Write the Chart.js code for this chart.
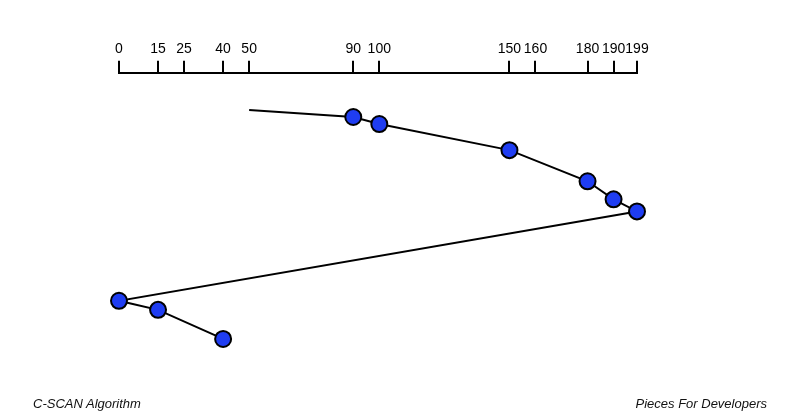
<!DOCTYPE html>
<html>
<head>
<meta charset="utf-8">
<script src="https://cdn.jsdelivr.net/npm/chart.js@4/dist/chart.umd.min.js"></script>
<style>
  body { margin: 0; background: #fff; }
  #wrap { position: relative; width: 800px; height: 420px; }
  .foot { position: absolute; top: 396px; font: italic 13px "Liberation Sans", Arial, sans-serif; color: #111; }
</style>
</head>
<body>
<div id="wrap">
  <canvas id="chart" width="800" height="420"></canvas>
  <div class="foot" style="left:33px">C-SCAN Algorithm</div>
  <div class="foot" style="right:33px">Pieces For Developers</div>
</div>
<script>
  // cylinder ticks on the number line
  const tickValues = [0, 15, 25, 40, 50, 90, 100, 150, 160, 180, 190, 199];
  // head movement order (cylinder requests) and vertical step
  const cylinders = [50, 90, 100, 150, 180, 190, 199, 0, 15, 40];
  const steps = [0, 7, 14, 40, 71, 89, 101, 190, 199, 228];

  let ctx = document.getElementById('chart').getContext('2d');

  let scanChart = new Chart(ctx, {
    type: 'line',
    data: {
      datasets: [{
        data: cylinders.map((c, i) => ({ x: c, y: steps[i] })),
        borderColor: '#000',
        borderWidth: 2,
        backgroundColor: '#1f3df2',
        pointBorderColor: '#000',
        pointBorderWidth: 2,
        pointRadius: cylinders.map((c, i) => i === 0 ? 0 : 8),
        tension: 0,
        clip: false,
      }]
    },
    options: {
      responsive: false,
      animation: false,
      layout: { padding: { left: 119, right: 163, top: 38, bottom: 72 } },
      plugins: { legend: { display: false }, tooltip: { enabled: false } },
      scales: {
        x: {
          type: 'linear',
          position: 'top',
          min: 0,
          max: 199,
          afterBuildTicks: (axis) => { axis.ticks = tickValues.map(v => ({ value: v })); },
          ticks: { color: '#000', font: { family: 'Liberation Sans', size: 14 }, maxRotation: 0, autoSkip: false, padding: 3 },
          grid: { drawOnChartArea: false, color: '#000', lineWidth: 2, tickLength: 12 },
          border: { color: '#000', width: 2 },
        },
        y: {
          display: false,
          reverse: true,
          min: -37,
          max: 237,
        }
      }
    }
  });
</script>
</body>
</html>
